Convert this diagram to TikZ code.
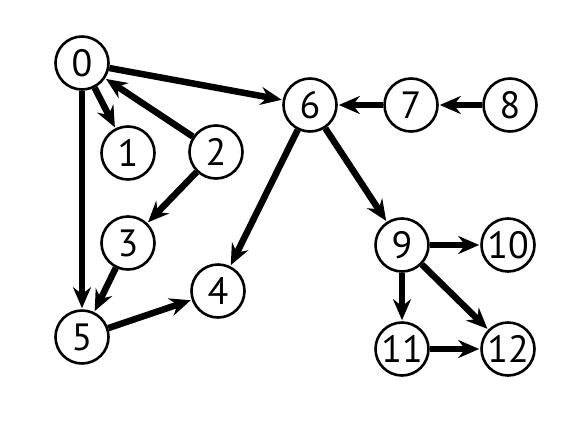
\documentclass[tikz,border=0pt]{standalone}
\usepackage{fontspec}
\setmainfont{PT Sans}
\usetikzlibrary{arrows.meta}
\begin{document}
\begin{tikzpicture}[x=1pt,y=-1pt,
  vert/.style={circle,draw=black,line width=2.6pt,minimum size=53pt,inner sep=0pt,font=\fontsize{38}{38}\selectfont,fill=white},
  edge/.style={line width=6.5pt,-{Stealth[length=21pt,width=18pt,inset=7pt]},shorten >=1pt}]
\useasboundingbox (0,0) rectangle (588,434);
\node[vert] (n0) at (82,63) {0};
\node[vert] (n1) at (128,153) {1};
\node[vert] (n2) at (216,152) {2};
\node[vert] (n3) at (128,243) {3};
\node[vert] (n4) at (218,291) {4};
\node[vert] (n5) at (82,337) {5};
\node[vert] (n6) at (310,105) {6};
\node[vert] (n7) at (411,105) {7};
\node[vert] (n8) at (510,105) {8};
\node[vert] (n9) at (402,245) {9};
\node[vert] (n10) at (508,245) {10};
\node[vert] (n11) at (402,349) {11};
\node[vert] (n12) at (508,349) {12};
\draw[edge] (n0) -- (n1);
\draw[edge] (n2) -- (n0);
\draw[edge] (n0) -- (n6);
\draw[edge] (n0) -- (n5);
\draw[edge] (n2) -- (n3);
\draw[edge] (n3) -- (n5);
\draw[edge] (n5) -- (n4);
\draw[edge] (n6) -- (n4);
\draw[edge] (n6) -- (n9);
\draw[edge] (n7) -- (n6);
\draw[edge] (n8) -- (n7);
\draw[edge] (n9) -- (n10);
\draw[edge] (n9) -- (n11);
\draw[edge] (n9) -- (n12);
\draw[edge] (n11) -- (n12);
\end{tikzpicture}
\end{document}
